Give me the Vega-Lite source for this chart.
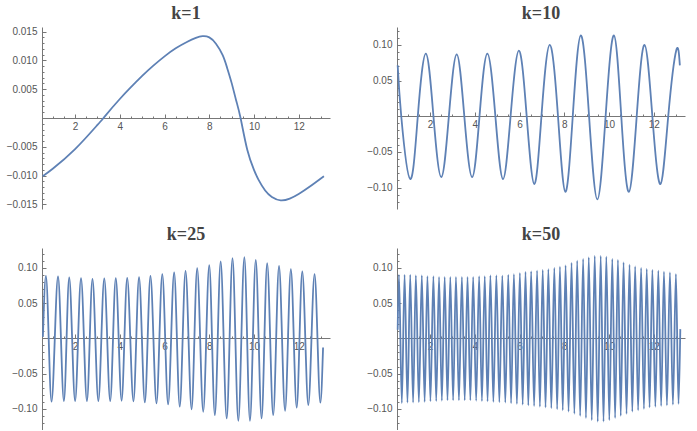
{
  "$schema": "https://vega.github.io/schema/vega-lite/v6.json",
  "padding": {"left": 2, "top": 4, "right": 5, "bottom": 0},
  "config": {
    "view": {"stroke": null},
    "axis": {"domainColor": "#777", "tickColor": "#777", "labelColor": "#555", "labelFont": "Liberation Sans", "labelFontSize": 10, "domainWidth": 1, "tickWidth": 1, "grid": false},
    "title": {"font": "Liberation Serif", "fontSize": 18, "fontWeight": "bold", "color": "#444", "offset": 4},
    "line": {"color": "#5E81B5", "strokeWidth": 1.8}
  },
  "datasets": {
    "k1": [
      {"x": 0.55, "y": -0.0101}, {"x": 1.0, "y": -0.0088}, {"x": 2.0, "y": -0.0054}, {"x": 3.0, "y": -0.0012},
      {"x": 3.27, "y": 0.0}, {"x": 4.0, "y": 0.0033}, {"x": 5.0, "y": 0.0073}, {"x": 5.5, "y": 0.0091},
      {"x": 6.0, "y": 0.0107}, {"x": 6.5, "y": 0.0121}, {"x": 7.0, "y": 0.0132}, {"x": 7.4, "y": 0.0139},
      {"x": 7.7, "y": 0.0142}, {"x": 8.0, "y": 0.014}, {"x": 8.3, "y": 0.0129}, {"x": 8.6, "y": 0.0109},
      {"x": 8.8, "y": 0.0087}, {"x": 9.0, "y": 0.0061}, {"x": 9.2, "y": 0.0031}, {"x": 9.4, "y": 0.0},
      {"x": 9.7, "y": -0.0055}, {"x": 10.0, "y": -0.009}, {"x": 10.2, "y": -0.0107}, {"x": 10.5, "y": -0.0126},
      {"x": 10.8, "y": -0.0137}, {"x": 11.19, "y": -0.0143}, {"x": 11.6, "y": -0.014}, {"x": 12.0, "y": -0.0132},
      {"x": 12.5, "y": -0.0119}, {"x": 13.13, "y": -0.0101}
    ],
    "k10": [
      {"x": 0.55, "y": 0.0713}, {"x": 0.71, "y": 0}, {"x": 1.11, "y": -0.088}, {"x": 1.45, "y": 0},
      {"x": 1.81, "y": 0.0876}, {"x": 2.15, "y": 0}, {"x": 2.5, "y": -0.0853}, {"x": 2.84, "y": 0},
      {"x": 3.19, "y": 0.0867}, {"x": 3.53, "y": 0}, {"x": 3.88, "y": -0.0853}, {"x": 4.21, "y": 0},
      {"x": 4.56, "y": 0.0876}, {"x": 4.92, "y": 0}, {"x": 5.26, "y": -0.088}, {"x": 5.6, "y": 0},
      {"x": 5.97, "y": 0.0918}, {"x": 6.32, "y": 0}, {"x": 6.66, "y": -0.0951}, {"x": 6.98, "y": 0},
      {"x": 7.35, "y": 0.1}, {"x": 7.72, "y": 0}, {"x": 8.05, "y": -0.106}, {"x": 8.38, "y": 0},
      {"x": 8.74, "y": 0.1133}, {"x": 9.11, "y": 0}, {"x": 9.48, "y": -0.1166}, {"x": 9.85, "y": 0},
      {"x": 10.22, "y": 0.1133}, {"x": 10.55, "y": 0}, {"x": 10.89, "y": -0.106}, {"x": 11.24, "y": 0},
      {"x": 11.59, "y": 0.1}, {"x": 11.94, "y": 0}, {"x": 12.3, "y": -0.0951}, {"x": 12.65, "y": 0},
      {"x": 13.01, "y": 0.0923}, {"x": 13.17, "y": 0.0713}
    ],
    "k25": [
      {"x": 0.56, "y": 0.002}, {"x": 0.695, "y": 0.0886}, {"x": 0.945, "y": -0.0899}, {"x": 1.237, "y": 0.0876},
      {"x": 1.5, "y": -0.089}, {"x": 1.737, "y": 0.0862}, {"x": 2.0, "y": -0.089}, {"x": 2.265, "y": 0.0852},
      {"x": 2.53, "y": -0.089}, {"x": 2.777, "y": 0.0843}, {"x": 3.04, "y": -0.089}, {"x": 3.305, "y": 0.0848},
      {"x": 3.57, "y": -0.089}, {"x": 3.82, "y": 0.0852}, {"x": 4.08, "y": -0.0885}, {"x": 4.33, "y": 0.0857},
      {"x": 4.61, "y": -0.0894}, {"x": 4.86, "y": 0.0867}, {"x": 5.12, "y": -0.0909}, {"x": 5.37, "y": 0.0886},
      {"x": 5.64, "y": -0.0923}, {"x": 5.9, "y": 0.0909}, {"x": 6.16, "y": -0.0937}, {"x": 6.43, "y": 0.0933},
      {"x": 6.68, "y": -0.097}, {"x": 6.94, "y": 0.0957}, {"x": 7.21, "y": -0.1008}, {"x": 7.46, "y": 0.0995},
      {"x": 7.73, "y": -0.1041}, {"x": 8.0, "y": 0.1037}, {"x": 8.25, "y": -0.1089}, {"x": 8.51, "y": 0.1089},
      {"x": 8.78, "y": -0.1136}, {"x": 9.04, "y": 0.1136}, {"x": 9.3, "y": -0.1169}, {"x": 9.57, "y": 0.1151},
      {"x": 9.82, "y": -0.1169}, {"x": 10.08, "y": 0.1113}, {"x": 10.34, "y": -0.1136}, {"x": 10.59, "y": 0.1066},
      {"x": 10.86, "y": -0.1089}, {"x": 11.12, "y": 0.1028}, {"x": 11.39, "y": -0.1027}, {"x": 11.65, "y": 0.098},
      {"x": 11.91, "y": -0.0984}, {"x": 12.16, "y": 0.0947}, {"x": 12.43, "y": -0.0946}, {"x": 12.71, "y": 0.0909},
      {"x": 12.97, "y": -0.0913}, {"x": 13.09, "y": -0.013}
    ],
    "k50": [
      {"x": 0.55, "y": 0.012},
      {"x": 0.607, "y": 0.09}, {"x": 0.736, "y": -0.0917}, {"x": 0.859, "y": 0.09}, {"x": 0.988, "y": -0.0912},
      {"x": 1.111, "y": 0.09}, {"x": 1.24, "y": -0.091}, {"x": 1.363, "y": 0.089}, {"x": 1.497, "y": -0.0905},
      {"x": 1.63, "y": 0.089}, {"x": 1.756, "y": -0.09}, {"x": 1.881, "y": 0.088}, {"x": 2.015, "y": -0.0895},
      {"x": 2.148, "y": 0.088}, {"x": 2.274, "y": -0.089}, {"x": 2.4, "y": 0.087}, {"x": 2.526, "y": -0.0885},
      {"x": 2.652, "y": 0.087}, {"x": 2.778, "y": -0.088}, {"x": 2.904, "y": 0.087}, {"x": 3.03, "y": -0.088},
      {"x": 3.156, "y": 0.087}, {"x": 3.289, "y": -0.088}, {"x": 3.422, "y": 0.087}, {"x": 3.548, "y": -0.088},
      {"x": 3.674, "y": 0.087}, {"x": 3.8, "y": -0.088}, {"x": 3.926, "y": 0.087}, {"x": 4.06, "y": -0.0885},
      {"x": 4.193, "y": 0.088}, {"x": 4.318, "y": -0.089}, {"x": 4.444, "y": 0.088}, {"x": 4.57, "y": -0.0895},
      {"x": 4.696, "y": 0.089}, {"x": 4.83, "y": -0.09}, {"x": 4.963, "y": 0.089}, {"x": 5.097, "y": -0.0905},
      {"x": 5.23, "y": 0.0887}, {"x": 5.363, "y": -0.091}, {"x": 5.496, "y": 0.09}, {"x": 5.622, "y": -0.092},
      {"x": 5.748, "y": 0.091}, {"x": 5.882, "y": -0.093}, {"x": 6.015, "y": 0.0925}, {"x": 6.141, "y": -0.094},
      {"x": 6.267, "y": 0.094}, {"x": 6.393, "y": -0.095}, {"x": 6.519, "y": 0.095}, {"x": 6.652, "y": -0.096},
      {"x": 6.785, "y": 0.096}, {"x": 6.911, "y": -0.097}, {"x": 7.037, "y": 0.097}, {"x": 7.163, "y": -0.098},
      {"x": 7.289, "y": 0.098}, {"x": 7.422, "y": -0.099}, {"x": 7.556, "y": 0.0997}, {"x": 7.682, "y": -0.1005},
      {"x": 7.807, "y": 0.1016}, {"x": 7.933, "y": -0.102}, {"x": 8.059, "y": 0.1035}, {"x": 8.192, "y": -0.104},
      {"x": 8.326, "y": 0.107}, {"x": 8.452, "y": -0.107}, {"x": 8.578, "y": 0.11}, {"x": 8.711, "y": -0.11},
      {"x": 8.844, "y": 0.1125}, {"x": 8.97, "y": -0.113}, {"x": 9.096, "y": 0.1148}, {"x": 9.23, "y": -0.116},
      {"x": 9.363, "y": 0.1168}, {"x": 9.497, "y": -0.118}, {"x": 9.63, "y": 0.1168}, {"x": 9.756, "y": -0.118},
      {"x": 9.881, "y": 0.1158}, {"x": 10.015, "y": -0.116}, {"x": 10.148, "y": 0.1125}, {"x": 10.274, "y": -0.113},
      {"x": 10.4, "y": 0.111}, {"x": 10.526, "y": -0.11}, {"x": 10.652, "y": 0.1077}, {"x": 10.785, "y": -0.107},
      {"x": 10.919, "y": 0.1044}, {"x": 11.044, "y": -0.104}, {"x": 11.17, "y": 0.102}, {"x": 11.303, "y": -0.102},
      {"x": 11.437, "y": 0.0997}, {"x": 11.563, "y": -0.1}, {"x": 11.689, "y": 0.0983}, {"x": 11.815, "y": -0.098},
      {"x": 11.941, "y": 0.0968}, {"x": 12.074, "y": -0.097}, {"x": 12.207, "y": 0.0959}, {"x": 12.333, "y": -0.096},
      {"x": 12.459, "y": 0.0945}, {"x": 12.592, "y": -0.095}, {"x": 12.726, "y": 0.0935}, {"x": 12.86, "y": -0.094},
      {"x": 12.993, "y": 0.0911}, {"x": 13.11, "y": -0.093}, {"x": 13.19, "y": 0.013}
    ]
  },
  "columns": 2,
  "spacing": {"row": 16, "column": 27},
  "concat": [
    {
      "title": "k=1", "width": 288, "height": 182,
      "data": {"name": "k1"},
      "layer": [
        {
          "mark": {"type": "line", "interpolate": "natural"},
          "encoding": {
            "x": {"field": "x", "type": "quantitative", "scale": {"domain": [0.52, 13.4], "nice": false, "zero": false},
                  "axis": {"orient": "bottom", "offset": -91, "values": [2, 4, 6, 8, 10, 12], "format": "d", "tickSize": -4, "labelPadding": 7, "title": null}},
            "y": {"field": "y", "type": "quantitative", "scale": {"domain": [-0.0158, 0.0158], "nice": false, "zero": false},
                  "axis": {"orient": "left", "values": [-0.015, -0.01, -0.005, 0.005, 0.01, 0.015], "format": ".3f", "tickSize": -4, "labelPadding": 9, "title": null, "minExtent": 40, "maxExtent": 40}}
          }
        },
        {
          "mark": {"type": "line", "strokeOpacity": 0},
          "encoding": {
            "x": {"field": "x", "type": "quantitative",
                  "axis": {"orient": "bottom", "offset": -91, "values": [0.5, 1, 1.5, 2, 2.5, 3, 3.5, 4, 4.5, 5, 5.5, 6, 6.5, 7, 7.5, 8, 8.5, 9, 9.5, 10, 10.5, 11, 11.5, 12, 12.5, 13], "tickSize": -2, "labels": false, "domain": false, "title": null, "minExtent": 0, "maxExtent": 0}},
            "y": {"field": "y", "type": "quantitative",
                  "axis": {"orient": "left", "values": [-0.015, -0.014, -0.013, -0.012, -0.011, -0.01, -0.009, -0.008, -0.007, -0.006, -0.005, -0.004, -0.003, -0.002, -0.001, 0.001, 0.002, 0.003, 0.004, 0.005, 0.006, 0.007, 0.008, 0.009, 0.01, 0.011, 0.012, 0.013, 0.014, 0.015], "tickSize": -2, "labels": false, "domain": false, "title": null, "minExtent": 0, "maxExtent": 0}}
          }
        }
      ],
      "resolve": {"axis": {"x": "independent", "y": "independent"}}
    },
    {
      "title": "k=10", "width": 288, "height": 182,
      "data": {"name": "k10"},
      "layer": [
        {
          "mark": {"type": "line", "interpolate": "natural"},
          "encoding": {
            "x": {"field": "x", "type": "quantitative", "scale": {"domain": [0.52, 13.4], "nice": false, "zero": false},
                  "axis": {"orient": "bottom", "offset": -93, "values": [2, 4, 6, 8, 10, 12], "format": "d", "tickSize": -4, "labelPadding": 7, "title": null}},
            "y": {"field": "y", "type": "quantitative", "scale": {"domain": [-0.13, 0.125], "nice": false, "zero": false},
                  "axis": {"orient": "left", "values": [-0.1, -0.05, 0.05, 0.1], "format": ".2f", "tickSize": -4, "labelPadding": 9, "title": null, "minExtent": 40, "maxExtent": 40}}
          }
        },
        {
          "mark": {"type": "line", "strokeOpacity": 0},
          "encoding": {
            "x": {"field": "x", "type": "quantitative",
                  "axis": {"orient": "bottom", "offset": -93, "values": [0.5, 1, 1.5, 2, 2.5, 3, 3.5, 4, 4.5, 5, 5.5, 6, 6.5, 7, 7.5, 8, 8.5, 9, 9.5, 10, 10.5, 11, 11.5, 12, 12.5, 13], "tickSize": -2, "labels": false, "domain": false, "title": null, "minExtent": 0, "maxExtent": 0}},
            "y": {"field": "y", "type": "quantitative",
                  "axis": {"orient": "left", "values": [-0.12, -0.11, -0.1, -0.09, -0.08, -0.07, -0.06, -0.05, -0.04, -0.03, -0.02, -0.01, 0.01, 0.02, 0.03, 0.04, 0.05, 0.06, 0.07, 0.08, 0.09, 0.1, 0.11, 0.12], "tickSize": -2, "labels": false, "domain": false, "title": null, "minExtent": 0, "maxExtent": 0}}
          }
        }
      ],
      "resolve": {"axis": {"x": "independent", "y": "independent"}}
    },
    {
      "title": "k=25", "width": 288, "height": 182,
      "data": {"name": "k25"},
      "layer": [
        {
          "mark": {"type": "line", "interpolate": "monotone"},
          "encoding": {
            "x": {"field": "x", "type": "quantitative", "scale": {"domain": [0.52, 13.4], "nice": false, "zero": false},
                  "axis": {"orient": "bottom", "offset": -92, "values": [2, 4, 6, 8, 10, 12], "format": "d", "tickSize": -4, "labelPadding": 7, "title": null}},
            "y": {"field": "y", "type": "quantitative", "scale": {"domain": [-0.13, 0.128], "nice": false, "zero": false},
                  "axis": {"orient": "left", "values": [-0.1, -0.05, 0.05, 0.1], "format": ".2f", "tickSize": -4, "labelPadding": 9, "title": null, "minExtent": 40, "maxExtent": 40}}
          }
        },
        {
          "mark": {"type": "line", "strokeOpacity": 0},
          "encoding": {
            "x": {"field": "x", "type": "quantitative",
                  "axis": {"orient": "bottom", "offset": -92, "values": [0.5, 1, 1.5, 2, 2.5, 3, 3.5, 4, 4.5, 5, 5.5, 6, 6.5, 7, 7.5, 8, 8.5, 9, 9.5, 10, 10.5, 11, 11.5, 12, 12.5, 13], "tickSize": -2, "labels": false, "domain": false, "title": null, "minExtent": 0, "maxExtent": 0}},
            "y": {"field": "y", "type": "quantitative",
                  "axis": {"orient": "left", "values": [-0.12, -0.11, -0.1, -0.09, -0.08, -0.07, -0.06, -0.05, -0.04, -0.03, -0.02, -0.01, 0.01, 0.02, 0.03, 0.04, 0.05, 0.06, 0.07, 0.08, 0.09, 0.1, 0.11, 0.12], "tickSize": -2, "labels": false, "domain": false, "title": null, "minExtent": 0, "maxExtent": 0}}
          }
        }
      ],
      "resolve": {"axis": {"x": "independent", "y": "independent"}}
    },
    {
      "title": "k=50", "width": 288, "height": 182,
      "data": {"name": "k50"},
      "layer": [
        {
          "mark": {"type": "line", "interpolate": "monotone"},
          "encoding": {
            "x": {"field": "x", "type": "quantitative", "scale": {"domain": [0.52, 13.4], "nice": false, "zero": false},
                  "axis": {"orient": "bottom", "offset": -92, "values": [2, 4, 6, 8, 10, 12], "format": "d", "tickSize": -4, "labelPadding": 7, "title": null}},
            "y": {"field": "y", "type": "quantitative", "scale": {"domain": [-0.13, 0.128], "nice": false, "zero": false},
                  "axis": {"orient": "left", "values": [-0.1, -0.05, 0.05, 0.1], "format": ".2f", "tickSize": -4, "labelPadding": 9, "title": null, "minExtent": 40, "maxExtent": 40}}
          }
        },
        {
          "mark": {"type": "line", "strokeOpacity": 0},
          "encoding": {
            "x": {"field": "x", "type": "quantitative",
                  "axis": {"orient": "bottom", "offset": -92, "values": [0.5, 1, 1.5, 2, 2.5, 3, 3.5, 4, 4.5, 5, 5.5, 6, 6.5, 7, 7.5, 8, 8.5, 9, 9.5, 10, 10.5, 11, 11.5, 12, 12.5, 13], "tickSize": -2, "labels": false, "domain": false, "title": null, "minExtent": 0, "maxExtent": 0}},
            "y": {"field": "y", "type": "quantitative",
                  "axis": {"orient": "left", "values": [-0.12, -0.11, -0.1, -0.09, -0.08, -0.07, -0.06, -0.05, -0.04, -0.03, -0.02, -0.01, 0.01, 0.02, 0.03, 0.04, 0.05, 0.06, 0.07, 0.08, 0.09, 0.1, 0.11, 0.12], "tickSize": -2, "labels": false, "domain": false, "title": null, "minExtent": 0, "maxExtent": 0}}
          }
        }
      ],
      "resolve": {"axis": {"x": "independent", "y": "independent"}}
    }
  ]
}
